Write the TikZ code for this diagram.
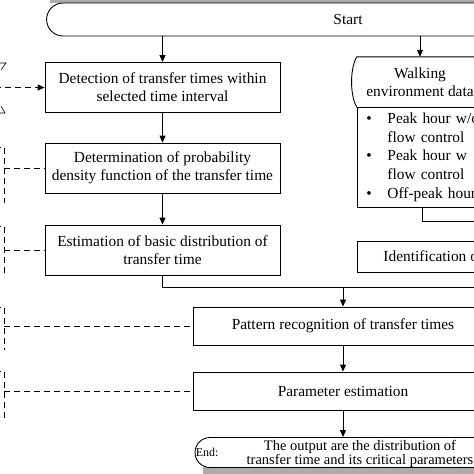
\documentclass[tikz,border=0pt]{standalone}
\usepackage{fontspec}
\setmainfont{Liberation Serif}
\usetikzlibrary{positioning, shapes.misc, arrows.meta}

\tikzset{
  box/.style={draw, line width=0.9pt, minimum width=235pt, minimum height=50pt, inner sep=2pt, align=center},
  wide/.style={draw, line width=0.9pt, minimum width=300pt, minimum height=38pt, inner sep=2pt, align=center},
  term/.style={draw, line width=0.9pt, rounded rectangle, rounded rectangle right arc=none, inner sep=2pt, align=center},
  link/.style={line width=0.9pt, -{Triangle[length=7pt,width=6pt]}},
  note/.style={line width=0.9pt, dash pattern=on 6pt off 4pt},
}
\newcommand{\bitem}[1]{\makebox[21pt][l]{\textbullet}#1}
\newcommand{\bcont}[1]{\makebox[21pt][l]{}#1}

\begin{document}
\begin{tikzpicture}[x=1pt, y=-1pt, font=\fontsize{15.4}{18}\selectfont]
  \useasboundingbox (0,0) rectangle (474,474);
  \clip (0,0) rectangle (474,474);
  % dark bands at the top and bottom edges
  \fill[gray!65] (50,0) rectangle (474,2.5);
  \fill[gray!65] (203,467) rectangle (474,474);

  % left column
  \node[term, minimum width=606pt, minimum height=33pt] (start) at (348,19.5) {Start};
  \node[box] (detect) at (162.5,87.5) {Detection of transfer times within\\selected time interval};
  \node[box] (determ) at (162.5,168) {Determination of probability\\density function of the transfer time};
  \node[box] (estim) at (162.5,250) {Estimation of basic distribution of\\transfer time};

  % right column
  \node[minimum width=126pt, minimum height=50pt, align=center] (walk) at (420,82) {Walking\\environment data};
  \node[draw, line width=0.9pt, anchor=west, minimum height=100pt, text width=130pt, inner xsep=9pt, align=left, font=\fontsize{15.4}{18.7}\selectfont] (list) at (357,157)
    {\bitem{Peak hour w/o}\\\bcont{flow control}\\\bitem{Peak hour w}\\\bcont{flow control}\\\bitem{Off-peak hour}};
  \draw[line width=0.9pt] ([xshift=60pt]walk.north east) -- (walk.north west) .. controls +(-7,12) and +(-7,-12) .. (walk.south west);
  \node[draw, line width=0.9pt, anchor=west, minimum height=31pt, inner xsep=26pt, align=left] (ident) at (357,256.5) {Identification of};

  % bottom part
  \node[wide] (pattern) at (343,326) {Pattern recognition of transfer times};
  \node[wide] (param) at (343,391) {Parameter estimation};
  \node[term, minimum width=300pt, minimum height=30pt] (finish) at (343,452.5) {};
  \node[anchor=west, inner sep=0pt, font=\fontsize{12}{14}\selectfont] (endlbl) at ([xshift=1pt]finish.west) {End:};
  \node[align=center, inner sep=0pt, font=\fontsize{14.5}{14.5}\selectfont] (output) at (360,454) {The output are the distribution of\\transfer time and its critical parameters};

  % connectors
  \coordinate (busR) at (500,287);
  \coordinate (walkR) at (500,221);
  \coordinate (inL) at (-5,87.5);
  \draw[link] (start.south -| detect.north) -- (detect.north);
  \draw[link] (start.south -| walk.north) -- (walk.north);
  \draw[link] (detect) -- (determ);
  \draw[link] (determ) -- (estim);
  \draw[line width=0.9pt] ([xshift=65pt]list.south west) |- (walkR);
  \draw[line width=0.9pt] (estim.south) |- (busR);
  \draw[link] (pattern.north |- busR) -- (pattern.north);
  \draw[link] (pattern) -- (param);
  \draw[link] (param) -- (finish);

  % dashed links to the notes on the left
  \draw[note, -{Triangle[length=7pt,width=6pt]}] (inL) -- (detect.west);
  \draw[line width=0.6pt] (0,63) -- (6,63) -- (1,70);
  \draw[line width=0.6pt] (1,106) -- (5,113) -- (0,113);
  \foreach \b/\t/\e in {determ/147/203, estim/226/277, pattern/307/350, param/371/420}{
    \draw[note] (-5,\t) -- (4,\t) -- (4,\e);
    \draw[note] (4,0 |- \b.west) -- (\b.west);
  }
\end{tikzpicture}
\end{document}
